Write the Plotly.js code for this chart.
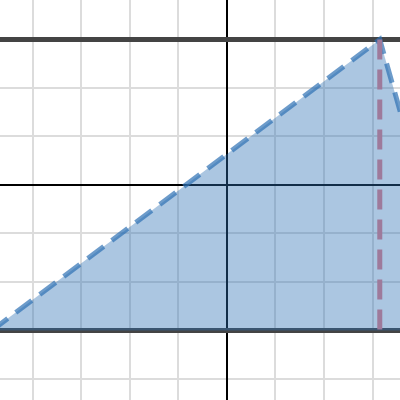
<!DOCTYPE html>
<html>
<head>
<meta charset="utf-8">
<script src="https://cdn.plot.ly/plotly-3.0.1.min.js"></script>
<style>
  html, body { margin: 0; padding: 0; background: #fff; }
  #graph { width: 400px; height: 400px; }
</style>
</head>
<body>
<div id="graph"></div>
<script>
// triangle vertices (closed)
const triangleX = [-4.85, 3.15, 4.85, -4.85]
const triangleY = [-3, 3, -3, -3]

// dashed height from the apex down to the base
const heightX = [3.15, 3.15]
const heightY = [3, -3]

// the two horizontal bounding lines y = 3 and y = -3
const boundX = [-10, 10]
const topY = [3, 3]
const bottomY = [-3, -3]

const blue = '#2d70b3'

const traces = [
  {
    x: boundX, y: topY,
    mode: 'lines', type: 'scatter', hoverinfo: 'none',
    line: { color: '#444', width: 5 }
  },
  {
    x: boundX, y: bottomY,
    mode: 'lines', type: 'scatter', hoverinfo: 'none',
    line: { color: '#444', width: 5 }
  },
  {
    // filled triangle, no outline
    x: triangleX, y: triangleY,
    mode: 'none', type: 'scatter', hoverinfo: 'none',
    fill: 'toself', fillcolor: 'rgba(45,112,179,0.4)'
  },
  {
    // dashed sides (left and right, not the base)
    x: triangleX.slice(0, 3), y: triangleY.slice(0, 3),
    mode: 'lines', type: 'scatter', hoverinfo: 'none',
    line: { color: 'rgba(45,112,179,0.7)', width: 5, dash: '20px,10px' }
  },
  {
    x: heightX, y: heightY,
    mode: 'lines', type: 'scatter', hoverinfo: 'none',
    line: { color: '#9e7a9b', width: 5, dash: '20px,10px' }
  }
]

const axisStyle = {
  showticklabels: false,
  ticks: '',
  dtick: 1,
  showgrid: true,
  gridcolor: '#dcdcdc',
  gridwidth: 2,
  zeroline: true,
  zerolinecolor: '#000',
  zerolinewidth: 2.5,
  showline: false,
  fixedrange: true
}

const layout = {
  width: 400,
  height: 400,
  margin: { l: 0, r: 0, t: 0, b: 0, pad: 0 },
  paper_bgcolor: '#fff',
  plot_bgcolor: '#fff',
  showlegend: false,
  xaxis: Object.assign({}, axisStyle, { range: [-4.68, 3.567] }),
  yaxis: Object.assign({}, axisStyle, { range: [-4.433, 3.814] })
}

Plotly.newPlot('graph', traces, layout, { staticPlot: true, displayModeBar: false })
</script>
</body>
</html>
